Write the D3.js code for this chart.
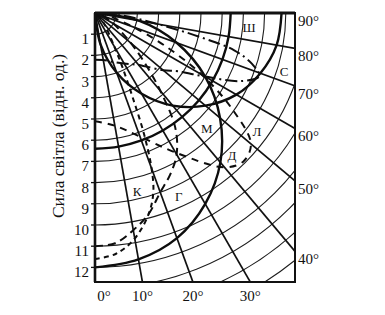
<!DOCTYPE html>
<html lang="uk">
<head>
<meta charset="utf-8">
<title>Криві сили світла</title>
<script src="https://cdnjs.cloudflare.com/ajax/libs/d3/7.8.5/d3.min.js"></script>
<style>
  html, body {margin: 0; padding: 0; background: #fff;}
  svg {display: block; font-family: "Liberation Serif", "DejaVu Serif", serif; fill: #111;}
  .arc {fill: none; stroke: #1c1c1c; stroke-width: 1.1;}
  .ray {stroke: #111; stroke-width: 1.7;}
  .frame {fill: none; stroke: #111; stroke-width: 2;}
  .curve {fill: none; stroke: #0d0d0d;}
</style>
</head>
<body>
<svg id="chart" width="385" height="315"></svg>
<script>
  // scale values (relative units) and angles in degrees
  var intensityTicks = [1, 2, 3, 4, 5, 6, 7, 8, 9, 10, 11, 12];
  var gridRadii = [1, 2, 3, 4, 5, 6, 7, 8, 9, 10, 11, 12, 13, 14, 15];
  var rayAngles = [0, 10, 20, 30, 40, 50, 60, 70, 80, 90];
  var bottomAngles = [0, 10, 20, 30];
  var rightAngles = [40, 50, 60, 70, 80, 90];

  // [angle, intensity]
  var curveK = [[0, 11.6], [5, 11.4], [10, 10.8], [15, 9.8], [18, 8.9], [20, 7.8], [22, 6.2], [24, 4.4], [27, 2.8], [30, 1.8], [40, 0.7], [50, 0.3], [60, 0.1], [90, 0]];
  var curveG = [[0, 11.0], [5, 10.9], [10, 10.4], [15, 9.8], [20, 9.0], [25, 8.4], [30, 7.7], [35, 6.6], [40, 4.8], [45, 3.3], [50, 2.2], [60, 1.0], [70, 0.4], [80, 0.1], [90, 0]];
  var curveD = [[0, 12], [10, 11.8], [20, 11.3], [30, 10.4], [40, 9.2], [50, 7.7], [60, 6.0], [70, 4.1], [80, 2.1], [90, 0]];
  var curveL = [[0, 5.1], [10, 5.4], [20, 6.2], [30, 7.6], [40, 9.5], [45, 9.9], [50, 9.6], [55, 7.9], [60, 5.8], [65, 3.6], [70, 1.9], [80, 0.5], [90, 0]];
  var curveSh = [[0, 2.2], [10, 2.25], [20, 2.45], [30, 2.75], [40, 3.2], [50, 4.2], [55, 4.8], [60, 6.0], [65, 7.6], [69, 8.3], [72, 7.8], [75, 6.8], [77, 5.2], [80, 3.0], [85, 1.2], [90, 0]];
  var curveM = [[0, 6.4], [10, 6.4], [20, 6.4], [30, 6.4], [40, 6.4], [50, 6.4], [60, 6.4], [70, 6.4], [80, 6.4], [90, 6.4]];
  var curveS = [[0, 0], [10, 1.5], [20, 3.0], [30, 4.4], [40, 5.7], [50, 6.8], [60, 7.7], [70, 8.3], [80, 8.7], [90, 8.8]];

  var curveLabels = [["Ш", 84.8, 7.3], ["С", 72.7, 9.34], ["М", 44.2, 7.57], ["Л", 53.9, 9.45], ["Д", 43.8, 9.34], ["К", 13.3, 8.63], ["Г", 24.5, 9.53]];

  var ox = 95, oy = 13, W = 200, H = 269;
  var r = d3.scaleLinear().domain([0, 12]).range([0, 254.4]);
  var rad = function (deg) { return deg * Math.PI / 180; };

  var svg = d3.select("#chart");
  svg.append("clipPath").attr("id", "box")
    .append("rect").attr("x", ox).attr("y", oy).attr("width", W).attr("height", H);

  var plot = svg.append("g").attr("clip-path", "url(#box)")
    .append("g").attr("transform", "translate(" + ox + "," + oy + ")");

  // concentric arcs
  plot.selectAll(".arc").data(gridRadii).enter().append("path")
    .attr("class", "arc")
    .attr("d", function (v) {
      var p = d3.path();
      p.arc(0, 0, r(v), 0, Math.PI / 2);
      return p.toString();
    });

  // rays from the origin (0 = straight down, 90 = horizontal)
  plot.selectAll(".ray").data(rayAngles).enter().append("line")
    .attr("class", "ray")
    .attr("x1", 0).attr("y1", 0)
    .attr("x2", function (a) { return 500 * Math.sin(rad(a)); })
    .attr("y2", function (a) { return 500 * Math.cos(rad(a)); });

  var line = d3.lineRadial()
    .angle(function (d) { return Math.PI - rad(d[0]); })
    .radius(function (d) { return r(d[1]); })
    .curve(d3.curveCatmullRom.alpha(0.5));

  var series = [
    {data: curveM, width: 2.4, dash: null},
    {data: curveD, width: 2.4, dash: null},
    {data: curveS, width: 2.4, dash: null},
    {data: curveK, width: 2, dash: "5,4"},
    {data: curveG, width: 2, dash: "8,5"},
    {data: curveL, width: 2, dash: "7,6"},
    {data: curveSh, width: 2, dash: "12,4,2,4"}
  ];
  plot.selectAll(".curve").data(series).enter().append("path")
    .attr("class", "curve")
    .attr("stroke-width", function (s) { return s.width; })
    .attr("stroke-dasharray", function (s) { return s.dash; })
    .attr("d", function (s) { return line(s.data); });

  // frame
  svg.append("path").attr("class", "frame")
    .attr("d", "M" + ox + "," + oy + "H" + (ox + W) + "V" + (oy + H) + "H" + ox + "Z");
  svg.append("line").attr("x1", ox).attr("x2", ox + W).attr("y1", oy).attr("y2", oy)
    .attr("stroke", "#111").attr("stroke-width", 3);
  svg.append("line").attr("x1", ox).attr("x2", ox).attr("y1", oy).attr("y2", oy + H)
    .attr("stroke", "#111").attr("stroke-width", 2.6);

  // left ticks and labels
  svg.selectAll(".ytick").data(intensityTicks).enter().append("line")
    .attr("x1", ox - 4).attr("x2", ox)
    .attr("y1", function (v) { return oy + r(v); })
    .attr("y2", function (v) { return oy + r(v); })
    .attr("stroke", "#111").attr("stroke-width", 1.3);
  svg.selectAll(".ylab").data(intensityTicks).enter().append("text")
    .attr("x", 89)
    .attr("y", function (v) { return oy + r(v) + 5; })
    .attr("text-anchor", "end")
    .attr("dominant-baseline", "central")
    .attr("font-size", 15)
    .text(function (v) { return v; });

  svg.append("text")
    .attr("transform", "translate(58,136) rotate(-90)")
    .attr("text-anchor", "middle")
    .attr("dominant-baseline", "central")
    .attr("font-size", 17.5)
    .text("Сила світла (відн. од.)");

  // angle labels
  svg.selectAll(".blab").data(bottomAngles).enter().append("text")
    .attr("x", function (a) { return Math.max(ox + H * Math.tan(rad(a)), ox + 9); })
    .attr("y", 301)
    .attr("text-anchor", "middle")
    .attr("font-size", 15)
    .text(function (a) { return a + "°"; });
  svg.selectAll(".rlab").data(rightAngles).enter().append("text")
    .attr("x", ox + W + 3)
    .attr("y", function (a) { return oy + W * Math.cos(rad(a)) / Math.sin(rad(a)) + 13; })
    .attr("font-size", 15)
    .text(function (a) { return a + "°"; });

  // curve names
  plot.selectAll(".clab").data(curveLabels).enter().append("text")
    .attr("x", function (d) { return r(d[2]) * Math.sin(rad(d[1])); })
    .attr("y", function (d) { return r(d[2]) * Math.cos(rad(d[1])); })
    .attr("text-anchor", "middle")
    .attr("dominant-baseline", "central")
    .attr("font-size", 13)
    .text(function (d) { return d[0]; });
</script>
</body>
</html>
